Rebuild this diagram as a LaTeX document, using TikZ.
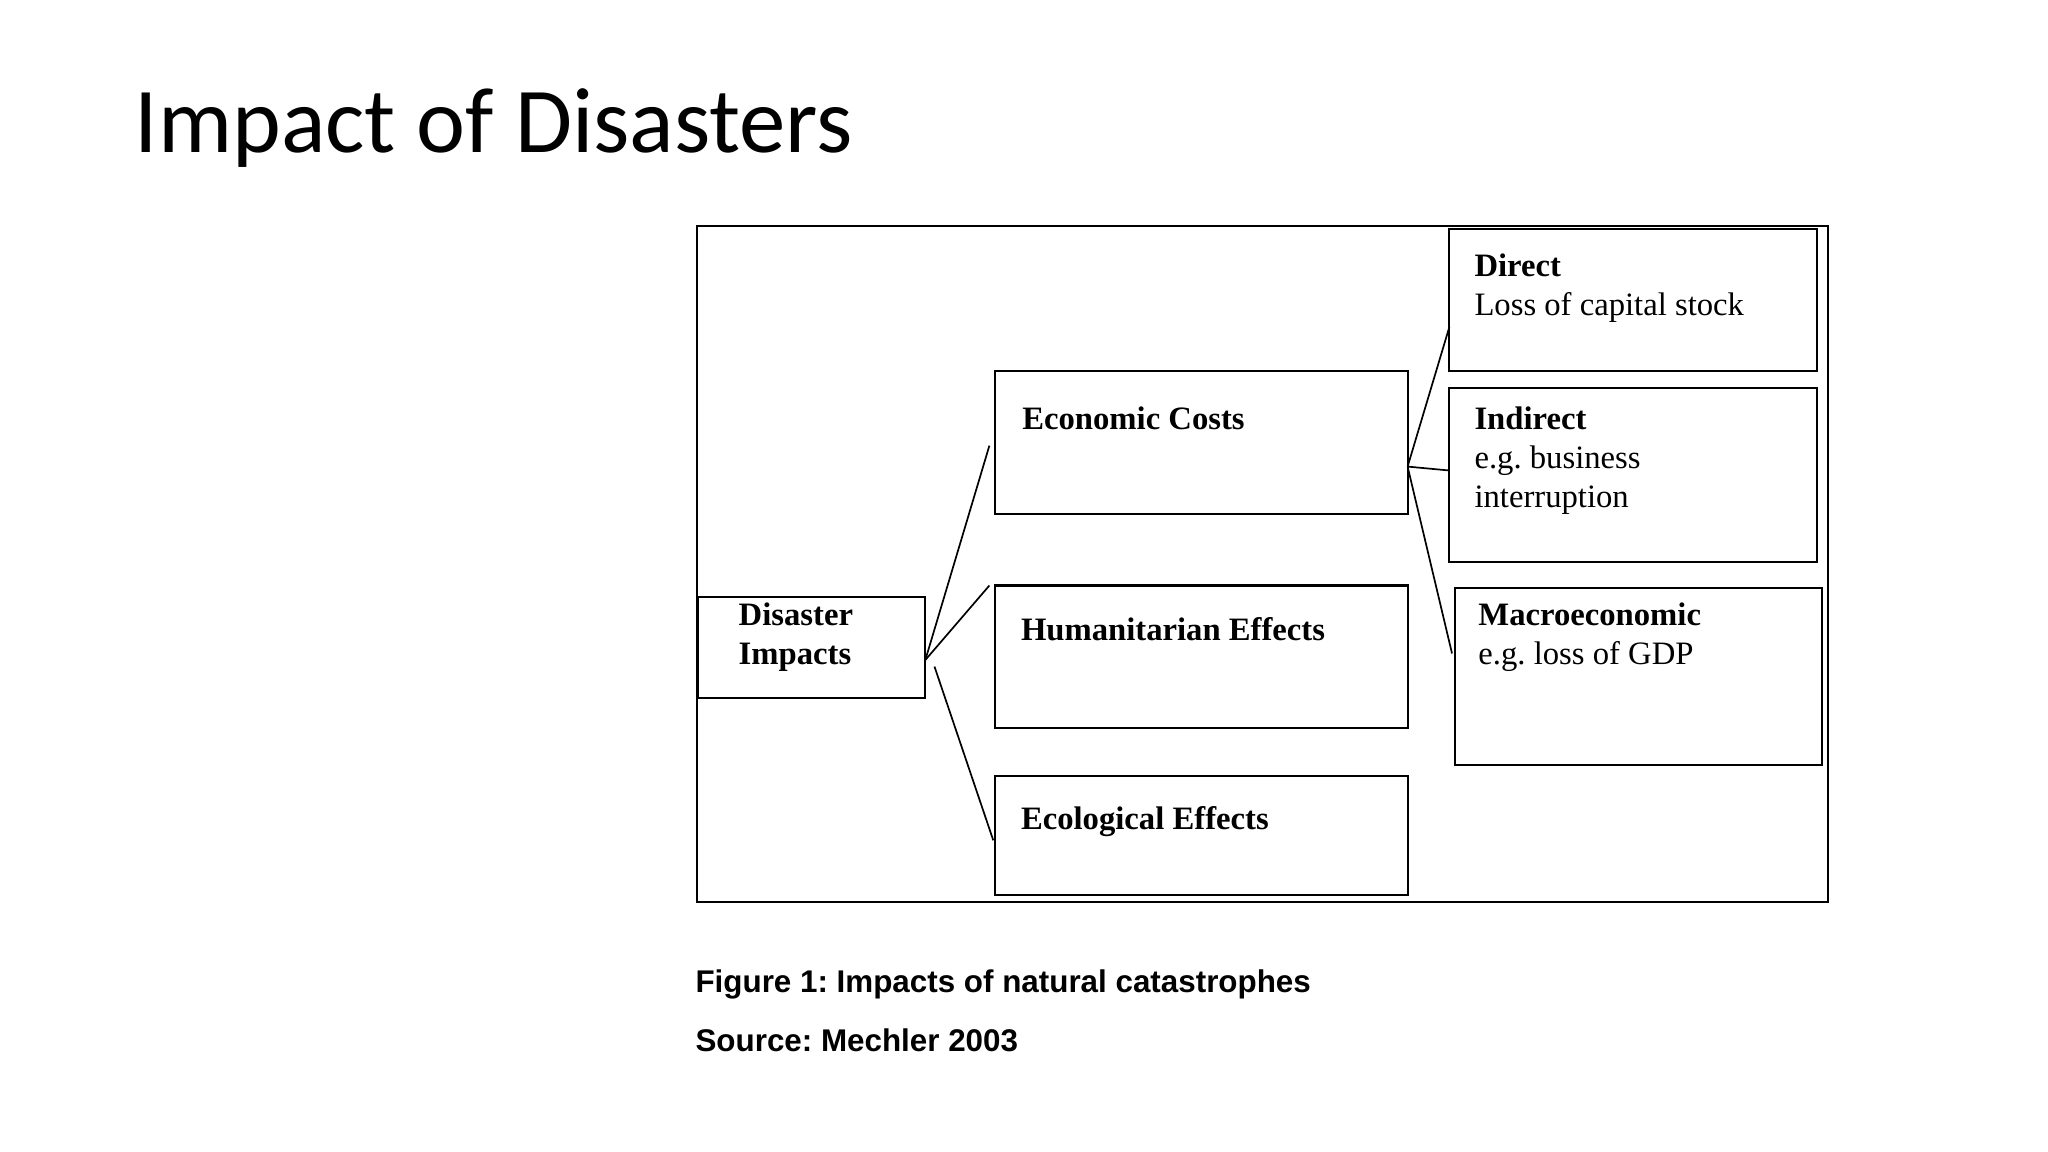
\documentclass[tikz,border=0pt]{standalone}
\usepackage{fontspec}
\setmainfont{Liberation Serif}
\newfontfamily\titlefont{Carlito}
\newfontfamily\capfont{Liberation Sans}
\begin{document}
\frenchspacing
\begin{tikzpicture}[x=1pt,y=-1pt,
  bx/.style={draw,line width=1.6pt},
  txt/.style={anchor=north west,inner sep=0pt,align=left,font=\fontsize{25}{31}\selectfont},
  ln/.style={line width=1.3pt}]
\useasboundingbox (0,0) rectangle (1567,881);
\node[anchor=west,inner sep=0pt,font=\titlefont\fontsize{71}{76}\selectfont] (title) at (103,98) {Impact of Disasters};
\draw[bx] (533,173) rectangle (1399,690);
\draw[bx] (534,457) rectangle (708,534);
\draw[bx] (761,284) rectangle (1077,393);
\draw[bx] (761,448) rectangle (1077,557);
\draw[bx] (761,594) rectangle (1077,685);
\draw[bx] (1109,175) rectangle (1390,284);
\draw[bx] (1109,297) rectangle (1390,430);
\draw[bx] (1113,450) rectangle (1394,585);
\node[txt] (di) at (565,461) {\textbf{Disaster}\\[-1pt]\textbf{Impacts}};
\node[txt] (ec) at (782,311) {\textbf{Economic Costs}};
\node[txt] (he) at (781,472) {\textbf{Humanitarian Effects}};
\node[txt] (ee) at (781,617) {\textbf{Ecological Effects}};
\node[txt] (dir) at (1128,194) {\textbf{Direct}\\[-1pt]Loss of capital stock};
\node[txt] (ind) at (1128,311) {\textbf{Indirect}\\[-1pt]e.g. business\\[-1pt]interruption};
\node[txt] (mac) at (1131,461) {\textbf{Macroeconomic}\\[-1pt]e.g. loss of GDP};
\coordinate (s1) at (708,505); \coordinate (s2) at (715,510);
\coordinate (t1) at (757,341); \coordinate (t2) at (757,448); \coordinate (t3) at (760,643);
\coordinate (r) at (1077,357);
\coordinate (u1) at (1109,250); \coordinate (u2) at (1109,360); \coordinate (u3) at (1111,500);
\draw[ln] (s1) -- (t1); \draw[ln] (s1) -- (t2); \draw[ln] (s2) -- (t3);
\draw[ln] (r) -- (u1); \draw[ln] (r) -- (u2); \draw[ln] (r) -- (u3);
\node[anchor=west,inner sep=0pt,font=\capfont\bfseries\fontsize{24}{28}\selectfont] (cap1) at (532,753) {Figure 1: Impacts of natural catastrophes};
\node[anchor=west,inner sep=0pt,font=\capfont\bfseries\fontsize{24}{28}\selectfont] (cap2) at (532,796) {Source: Mechler 2003};
\end{tikzpicture}
\end{document}
